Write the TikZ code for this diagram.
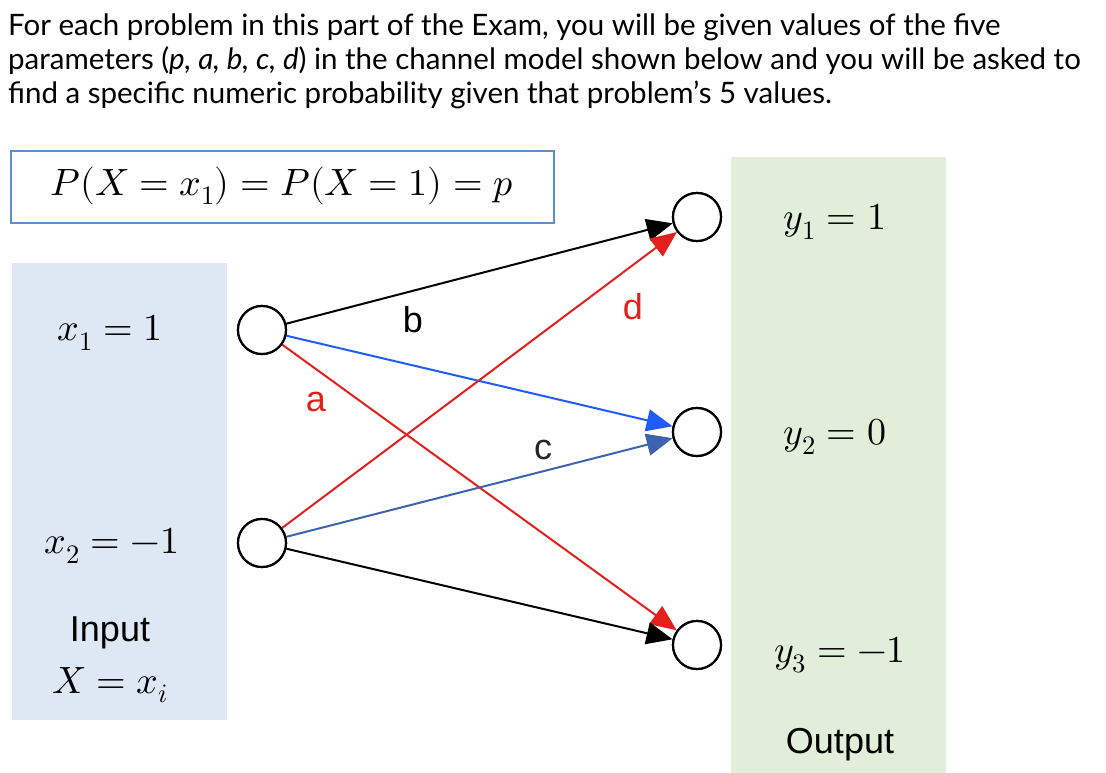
\documentclass[tikz,border=0pt]{standalone}
\usepackage{fontspec}
\setmainfont{Lato}
\newfontfamily\arialf{Liberation Sans}
\usepackage{unicode-math}
\setmathfont{Latin Modern Math}
\usetikzlibrary{arrows.meta}
\definecolor{inbg}{HTML}{DEE8F5}
\definecolor{outbg}{HTML}{E1EFDA}
\definecolor{boxb}{HTML}{5B8FD0}
\definecolor{bblue}{HTML}{1F5BFF}
\definecolor{sblue}{HTML}{3D63AE}
\definecolor{rred}{HTML}{E3201C}
\tikzset{
  nd/.style={circle,draw=black,line width=2.2pt,fill=white,minimum size=48pt,inner sep=0pt},
  ar/.style={line width=2pt,-{Triangle[length=26pt,width=22pt]}},
  lab/.style={font=\fontsize{38}{44}\selectfont},
  wl/.style={font=\arialf\fontsize{36}{42}\selectfont},
}
\begin{document}
\begin{tikzpicture}[x=1pt,y=-1pt]
\useasboundingbox (0,0) rectangle (1106,773);
\node[anchor=north west,align=left,inner sep=0pt,font=\fontsize{29.5}{34}\selectfont] (t) at (8,14)
{For each problem in this part of the Exam, you will be given values of the five\\
parameters (\textit{p, a, b, c, d}) in the channel model shown below and you will be asked to\\
find a specific numeric probability given that problem's 5 values.};
\node[draw=boxb,line width=1.8pt,minimum width=543pt,minimum height=72pt,anchor=north west] (pb) at (10,150) {};
\node[lab] (pt) at (282,186) {$P(X=x_1)=P(X=1)=p$};
\fill[inbg] (12,263) rectangle (227,720);
\fill[outbg] (731,157) rectangle (946,773);
\node[nd] (i1) at (262,330) {};
\node[nd] (i2) at (262,543) {};
\node[nd] (o1) at (697,217) {};
\node[nd] (o2) at (697,432) {};
\node[nd] (o3) at (697,645) {};
\draw[ar,black] (i1) -- (o1);
\draw[ar,bblue] (i1) -- (o2);
\draw[ar,rred] (i1) -- (o3);
\draw[ar,rred] (i2) -- (o1);
\draw[ar,sblue] (i2) -- (o2);
\draw[ar,black] (i2) -- (o3);
\node[nd] at (i1) {};\node[nd] at (i2) {};
\node[nd] at (o1) {};\node[nd] at (o2) {};\node[nd] at (o3) {};
\node[lab] (lx1) at (110,333) {$x_1=1$};
\node[lab] (lx2) at (112,546) {$x_2=-1$};
\node[wl] (lin) at (110,633) {Input};
\node[lab] (lX) at (110,685) {$X=x_i$};
\node[lab] (ly1) at (835,222) {$y_1=1$};
\node[lab] (ly2) at (835,437) {$y_2=0$};
\node[lab] (ly3) at (840,655) {$y_3=-1$};
\node[wl] (lout) at (840,745) {Output};
\node[wl] (b) at (413,320) {b};
\node[wl,rred] (a) at (316,402) {a};
\node[wl,black!85] (c) at (543,450) {c};
\node[wl,rred] (d) at (633,307) {d};
\end{tikzpicture}
\end{document}
